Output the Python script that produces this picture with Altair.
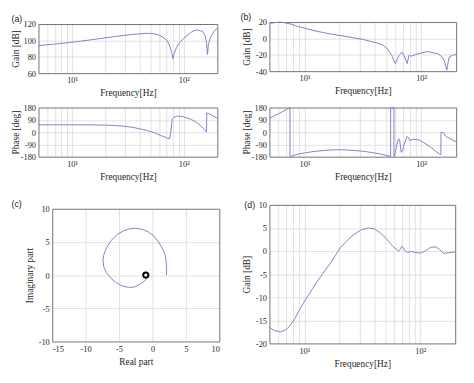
import altair as alt
import pandas as pd

LINE = "#7f83c9"
SERIF = "Liberation Serif"
SANS = "Liberation Sans"
TXT = "#262626"
GRID = "#dadada"
FRAME = "#727272"

# ---------------- data ----------------
a_gain_f = [5, 7, 10, 15, 24, 35, 47, 55, 60, 65, 71, 75, 78, 80, 82, 86, 90, 100, 107, 115, 125, 133, 142, 150, 156, 160, 163, 166, 170, 177, 185, 200]
a_gain_db = [93.7, 95.5, 97.7, 100.8, 104.7, 107.3, 108.7, 108.0, 106.5, 103.8, 99.8, 93, 85, 77.4, 84, 91, 95.7, 102.5, 105.9, 109.5, 112.2, 112.6, 111.8, 109.9, 105, 97, 82.8, 94, 100, 105.9, 110, 115.1]

a_phase_f = [5, 10, 15, 20, 24, 28, 34, 40, 47, 55, 62, 68, 72, 75, 77, 79, 82, 86, 90, 100, 115, 130, 145, 158, 160, 161, 170, 185, 200]
a_phase_deg = [53.5, 53.5, 53, 51, 48.6, 44, 36.5, 25, 12, -6, -24, -37, -45, -48.6, 20, 95, 110, 115, 116.8, 112, 95, 73, 40, 5, 0, 141, 133, 118, 102]

b_gain_f = [5, 6.2, 7.5, 8.9, 12.3, 17, 23.5, 32.4, 42, 47, 51, 56, 60, 64.6, 68.5, 72.5, 76, 78.7, 83, 94, 114, 139, 150, 158, 166, 174, 185, 200]
b_gain_db = [18.4, 20, 17.8, 14.4, 9.2, 5.2, 2, -1.6, -5.6, -8.2, -12, -20.8, -30.8, -20.8, -16.8, -22.8, -30.8, -20.8, -21.6, -18.8, -16, -18.8, -22, -26.8, -38.8, -22.8, -20.8, -19.6]

b_phase_f = [5, 6, 7, 7.5, 7.51, 8, 8.9, 10, 12.3, 15, 17, 20, 23.5, 28, 32.4, 38, 44.8, 50, 53, 54.8, 54.81, 58.5, 58.51, 60, 62, 64, 65.5, 67.4, 69, 72, 76, 78, 80, 85, 94, 103, 120, 143, 148, 148.1, 156, 162, 191, 200]
b_phase_deg = [102, 135, 165, 180, -180, -172, -160, -152, -141, -134, -131, -129, -131, -136, -141, -150, -160, -170, -175, -180, 180, 180, -180, -150, -90, -50, -55, -148, -140, -80, -32, -42, -62, -52, -55, -72, -108, -159, -165, -3, -5, -29, -64, -70]

nyq_re = [2.1, 2.1, 2.05, 1.9, 1.5, 0.9, 0.2, -0.6, -1.5, -2.5, -3.3, -4.3, -5.3, -6.2, -6.9, -7.3, -7.4, -7.3, -6.9, -6.3, -5.5, -4.6, -3.6, -2.7, -1.9, -1.2, -0.8, -0.5]
nyq_im = [0.0, 1.0, 2.0, 3.0, 4.0, 5.0, 5.9, 6.5, 6.9, 7.05, 7.0, 6.7, 6.1, 5.2, 4.1, 3.0, 2.2, 1.3, 0.4, -0.4, -1.1, -1.6, -1.85, -1.8, -1.4, -0.9, -0.45, -0.1]
crit_re = [-1.0]
crit_im = [0.0]

d_gain_f = [5, 5.5, 6.2, 7, 7.6, 8.3, 8.9, 9.8, 11, 12.3, 14.5, 17, 20.6, 23.5, 26.8, 31, 35.8, 40, 44.8, 50, 54.5, 58, 62, 65, 67, 69, 71, 74, 78, 83, 90, 101, 112, 123, 136, 147, 158, 175, 200]
d_gain_db = [-16.5, -17.2, -17.5, -17.0, -16.0, -14.6, -13.1, -11.3, -9.3, -7.4, -4.8, -2.4, 0.8, 2.3, 3.6, 4.6, 5.0, 4.8, 4.0, 2.9, 1.8, 1.0, 0.4, 0.0, 0.3, 1.0, 0.8, 0.0, -0.3, -0.1, -0.3, -0.45, 0.1, 0.8, 0.9, 0.3, -0.5, -0.4, -0.2]

freq_label_ticks = [10, 100]
freq_grid_ticks = [6, 7, 8, 9, 10, 20, 30, 40, 50, 60, 70, 80, 90, 100]
gain_a_ticks = [60, 80, 100, 120]
phase_ticks = [-180, -90, 0, 90, 180]
gain_b_ticks = [-40, -20, 0, 20]
gain_d_ticks = [-20, -15, -10, -5, 0, 5, 10]
re_ticks = [-15, -10, -5, 0, 5, 10]
re_grid = [-10, -5, 0, 5]
im_ticks = [-10, -5, 0, 5, 10]

# ---------------- layout (page pixels) ----------------
W, H = 466, 375
O = 8  # page margin
FREQ_EXPR = "datum.value == 10 ? '10\u00b9' : (datum.value == 100 ? '10\u00b2' : '')"


def panel(df, xf, yf, xdom, ydom, box, xlog, xvals, xexpr, xgrid, xtitle, yvals, ytitle,
          label=None, mark_a=None, mark_b=None, order=None):
    L, R, T, B = box
    if xlog:
        xs = alt.Scale(type="log", domain=xdom, range=[L - O, R - O], nice=False)
    else:
        xs = alt.Scale(domain=xdom, range=[L - O, R - O], nice=False, zero=False)
    ys = alt.Scale(domain=ydom, range=[B - O, T - O], nice=False, zero=False)
    ycond = {"condition": {"test": "datum.value == %s || datum.value == %s" % (ydom[0], ydom[1]),
                           "value": "transparent"}, "value": GRID}
    ax_bottom = alt.Axis(orient="bottom", offset=(B - O) - H, values=xvals, labelExpr=xexpr,
                         title=xtitle, grid=False, domain=True, labelFont=SERIF)
    ax_left = alt.Axis(orient="left", offset=-(L - O), values=yvals, labelExpr="datum.value",
                       title=ytitle, grid=True, gridColor=ycond, domain=True, labelFont=SERIF)
    enc_a = dict(x=alt.X(xf + ":Q", scale=xs, axis=ax_bottom),
                 y=alt.Y(yf + ":Q", scale=ys, axis=ax_left))
    if order:
        enc_a["order"] = alt.Order(order + ":Q")
    a = alt.Chart(df).mark_line(color=LINE, strokeWidth=1) if mark_a is None else mark_a
    a = a.encode(**enc_a)

    if label:
        ltxt, lx, ly = label
        ax_top = alt.Axis(orient="top", offset=-(T - O), values=xgrid, labels=False, grid=True,
                          gridColor=GRID, domain=True, title=ltxt, titleX=lx - O, titleY=ly - T,
                          titleAlign="left", titleBaseline="middle", titleAngle=0,
                          titleFont=SANS, titleFontSize=9, titleFontWeight="normal")
    else:
        ax_top = alt.Axis(orient="top", offset=-(T - O), values=xgrid, labels=False, grid=True,
                          gridColor=GRID, domain=True, title=None)
    ax_right = alt.Axis(orient="right", offset=(R - O) - W, values=yvals, labels=False,
                        grid=False, domain=True, title=None)
    b = (mark_b if mark_b is not None else alt.Chart(df).mark_point(opacity=0)).encode(
        x=alt.X(xf + ":Q", scale=xs, axis=ax_top),
        y=alt.Y(yf + ":Q", scale=ys, axis=ax_right))
    return [a, b]


layers = []
layers += panel(pd.DataFrame({"f": a_gain_f, "g": a_gain_db}), "f", "g", [5, 200], [60, 120],
                (39, 221, 21, 71), True, freq_label_ticks, FREQ_EXPR, freq_grid_ticks,
                "Frequency[Hz]", gain_a_ticks, "Gain [dB]", label=("(a)", 11, 15))
layers += panel(pd.DataFrame({"f": a_phase_f, "p": a_phase_deg}), "f", "p", [5, 200], [-180, 180],
                (39, 221, 106, 156), True, freq_label_ticks, FREQ_EXPR, freq_grid_ticks,
                "Frequency[Hz]", phase_ticks, "Phase [deg]")
layers += panel(pd.DataFrame({"f": b_gain_f, "g": b_gain_db}), "f", "g", [5, 200], [-40, 20],
                (274, 464, 19, 69), True, freq_label_ticks, FREQ_EXPR, freq_grid_ticks,
                "Frequency[Hz]", gain_b_ticks, "Gain [dB]", label=("(b)", 244, 13.5))
layers += panel(pd.DataFrame({"f": b_phase_f, "p": b_phase_deg}), "f", "p", [5, 200], [-180, 180],
                (274, 464, 106, 156), True, freq_label_ticks, FREQ_EXPR, freq_grid_ticks,
                "Frequency[Hz]", phase_ticks, "Phase [deg]")
nyq_df = pd.DataFrame({"re": nyq_re, "im": nyq_im, "i": list(range(len(nyq_re)))})
crit_mark = alt.Chart(pd.DataFrame({"re": crit_re, "im": crit_im})).mark_point(
    shape="circle", filled=False, color="black", strokeWidth=2, size=28, opacity=1)
layers += panel(nyq_df, "re", "im", [-15, 10], [-10, 10], (53, 223, 209, 344), False,
                re_ticks, "datum.value", re_grid, "Real part", im_ticks, "Imaginary part",
                label=("(c)", 11, 203.5), mark_b=crit_mark, order="i")
layers += panel(pd.DataFrame({"f": d_gain_f, "g": d_gain_db}), "f", "g", [5, 200], [-20, 10],
                (274, 463, 205, 346), True, freq_label_ticks, FREQ_EXPR, freq_grid_ticks,
                "Frequency[Hz]", gain_d_ticks, "Gain [dB]", label=("(d)", 248, 205))

chart = alt.layer(*layers).resolve_scale(x="independent", y="independent").resolve_axis(
    x="independent", y="independent"
).properties(
    width=W, height=H, padding=0, autosize=alt.AutoSizeParams(type="none")
).configure_view(strokeOpacity=0).configure_axis(
    labelFont=SERIF, titleFont=SERIF, labelFontSize=8.5, titleFontSize=9.5,
    titleFontWeight="normal", labelColor=TXT, titleColor=TXT,
    gridColor=GRID, gridWidth=0.8, domainColor=FRAME, domainWidth=1,
    ticks=False, tickSize=0, labelPadding=3, titlePadding=3
).configure_axisX(minExtent=12, maxExtent=12).configure_axisY(minExtent=15, maxExtent=15)

chart.save("out.html", embed_options={"renderer": "svg", "actions": False})
